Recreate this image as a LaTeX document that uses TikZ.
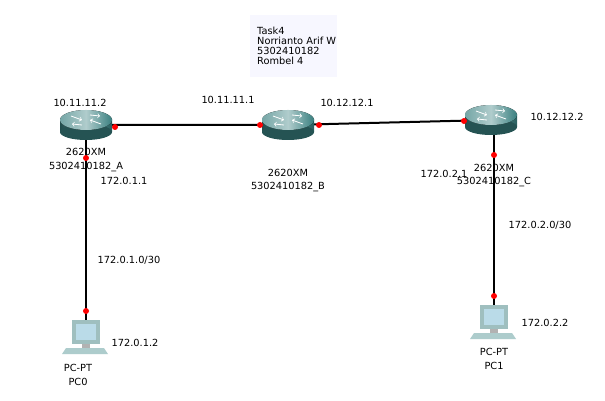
\documentclass[tikz,border=0pt]{standalone}
\usepackage{fontspec}
\setmainfont{DejaVu Sans}
\begin{document}
\begin{tikzpicture}[x=1pt,y=-1pt,
  lbl/.style={font=\fontsize{9.8}{11}\selectfont,inner sep=0pt},
  link/.style={line width=2pt,black},
  dot/.style={circle,fill=red,inner sep=0pt,minimum size=6pt},
  router/.pic={
    \fill[left color=#1!60!black,right color=#1!75!black,middle color=#1!85!white] (-26,-5) rectangle (26,7);
    \fill[#1!65!black] (0,7) ellipse (26 and 8);
    \fill[left color=#1!70!white,right color=#1,middle color=#1!40!white] (0,-5) ellipse (26 and 10);
    \draw[white,line width=0.8pt,->] (-15,-9)--(-4,-5);
    \draw[white,line width=0.8pt,->] (15,-1)--(4,-5);
    \draw[white,line width=0.8pt,->] (4,-10)--(14,-9);
    \draw[white,line width=0.8pt,->] (-4,0)--(-14,-1);
  },
  pc/.pic={
    \fill[gray!50!teal!50] (-14,-20) rectangle (14,4);
    \fill[cyan!40!teal!30] (-10,-16) rectangle (10,0);
    \fill[gray!60] (-4,4) rectangle (4,8);
    \fill[gray!40!teal!40] (-20,8) -- (18,8) -- (22,14) -- (-24,14) -- cycle;
  }]
\useasboundingbox (0,0) rectangle (605,401);
\fill[white] (0,0) rectangle (605,401);
\fill[blue!3] (250,15) rectangle (337,77);
\node[lbl,anchor=west,align=left] (note) at (257,46) {Task4\\[-1pt]Norrianto Arif W\\[-1pt]5302410182\\[-1pt]Rombel 4};
\coordinate (A) at (86,125); \coordinate (B) at (288,125); \coordinate (C) at (491,120);
\coordinate (P0) at (86,340); \coordinate (P1) at (494,325);
\draw[link] (A) -- (B) -- (C);
\draw[link] (A) -- (P0);
\draw[link] (494,120) -- (P1);
\pic at (A) {router=teal!55!gray};
\pic at (B) {router=teal!55!gray};
\pic at (C) {router=teal!55!gray};
\pic at (P0) {pc};
\pic at (P1) {pc};
\node[dot] at (115,127) {}; \node[dot] at (260,125) {};
\node[dot] at (319,125) {}; \node[dot] at (464,121) {};
\node[dot] at (86,158) {}; \node[dot] at (86,311) {};
\node[dot] at (494,155) {}; \node[dot] at (494,296) {};
\node[lbl] (a1) at (80,103) {10.11.11.2};
\node[lbl] (b1) at (228,100) {10.11.11.1};
\node[lbl] (b2) at (347,103) {10.12.12.1};
\node[lbl] (c1) at (557,117) {10.12.12.2};
\node[lbl] (am) at (86,152) {2620XM};
\node[lbl] (an) at (86,167) {5302410182\_A};
\node[lbl] (bm) at (288,173) {2620XM};
\node[lbl] (bn) at (288,187) {5302410182\_B};
\node[lbl] (cm) at (494,168) {2620XM};
\node[lbl] (cn) at (494,182) {5302410182\_C};
\node[lbl] (a2) at (124,181) {172.0.1.1};
\node[lbl] (n1) at (129,260) {172.0.1.0/30};
\node[lbl] (p0a) at (135,343) {172.0.1.2};
\node[lbl] (p0m) at (78,368) {PC-PT};
\node[lbl] (p0n) at (78,382) {PC0};
\node[lbl] (c2) at (444,174) {172.0.2.1};
\node[lbl] (n2) at (540,225) {172.0.2.0/30};
\node[lbl] (p1a) at (545,323) {172.0.2.2};
\node[lbl] (p1m) at (494,352) {PC-PT};
\node[lbl] (p1n) at (494,366) {PC1};
\end{tikzpicture}
\end{document}
